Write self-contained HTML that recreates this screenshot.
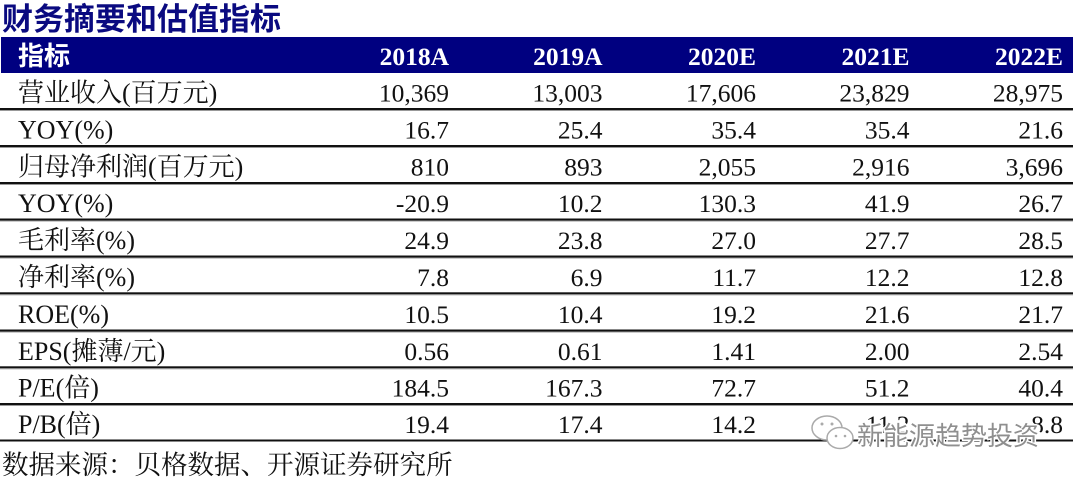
<!DOCTYPE html>
<html>
<head>
<meta charset="utf-8">
<style>
  html,body{margin:0;padding:0;background:#fff;}
  body{width:1080px;height:484px;overflow:hidden;}
  svg{display:block;}
  .n{font-family:"Liberation Serif","Noto Serif CJK SC",serif;font-size:25.5px;fill:#111;text-anchor:end;}
  .l{font-family:"Liberation Serif","Noto Serif CJK SC",serif;font-size:26px;fill:#111;}
  .h{font-family:"Liberation Serif","Noto Serif CJK SC",serif;font-size:25.5px;font-weight:bold;fill:#fff;text-anchor:end;}
</style>
</head>
<body>
<svg width="1080" height="484" viewBox="0 0 1080 484" xmlns="http://www.w3.org/2000/svg">
  <!-- title -->
  <text x="2" y="30" style="font-family:'Noto Sans CJK SC',sans-serif;font-size:31px;font-weight:bold;fill:#0a0a80;">财务摘要和估值指标</text>

  <!-- header bar -->
  <rect x="1" y="37" width="1072" height="36" fill="#000080"/>
  <text x="18" y="65" style="font-family:'Noto Sans CJK SC',sans-serif;font-size:26px;font-weight:bold;fill:#fff;">指标</text>
  <text class="h" x="449" y="65">2018A</text>
  <text class="h" x="602.5" y="65">2019A</text>
  <text class="h" x="756" y="65">2020E</text>
  <text class="h" x="909.5" y="65">2021E</text>
  <text class="h" x="1063" y="65">2022E</text>

  <!-- row lines -->
  <g fill="#111">
    <rect x="0" y="108" width="1073" height="2"/>
    <rect x="0" y="145" width="1073" height="2"/>
    <rect x="0" y="182" width="1073" height="2"/>
    <rect x="0" y="218.5" width="1073" height="2"/>
    <rect x="0" y="255.5" width="1073" height="2"/>
    <rect x="0" y="292.3" width="1073" height="2"/>
    <rect x="0" y="329.5" width="1073" height="2"/>
    <rect x="0" y="366.3" width="1073" height="2"/>
    <rect x="0" y="403" width="1073" height="2"/>
    <rect x="0" y="439.5" width="1073" height="2"/>
  </g>
  <g fill="#999">
    <rect x="0" y="110" width="1073" height="1"/>
    <rect x="0" y="147" width="1073" height="1"/>
    <rect x="0" y="184" width="1073" height="1"/>
    <rect x="0" y="220.5" width="1073" height="1"/>
    <rect x="0" y="257.5" width="1073" height="1"/>
    <rect x="0" y="294.3" width="1073" height="1"/>
    <rect x="0" y="331.5" width="1073" height="1"/>
    <rect x="0" y="368.3" width="1073" height="1"/>
    <rect x="0" y="405" width="1073" height="1"/>
  </g>

  <!-- rows -->
  <g>
    <text class="l" x="18" y="101.5">营业收入(百万元)</text>
    <text class="n" x="449" y="101.5">10,369</text>
    <text class="n" x="602.5" y="101.5">13,003</text>
    <text class="n" x="756" y="101.5">17,606</text>
    <text class="n" x="909.5" y="101.5">23,829</text>
    <text class="n" x="1063" y="101.5">28,975</text>

    <text class="l" x="18" y="138.5">YOY(%)</text>
    <text class="n" x="449" y="138.5">16.7</text>
    <text class="n" x="602.5" y="138.5">25.4</text>
    <text class="n" x="756" y="138.5">35.4</text>
    <text class="n" x="909.5" y="138.5">35.4</text>
    <text class="n" x="1063" y="138.5">21.6</text>

    <text class="l" x="18" y="175.3">归母净利润(百万元)</text>
    <text class="n" x="449" y="175.3">810</text>
    <text class="n" x="602.5" y="175.3">893</text>
    <text class="n" x="756" y="175.3">2,055</text>
    <text class="n" x="909.5" y="175.3">2,916</text>
    <text class="n" x="1063" y="175.3">3,696</text>

    <text class="l" x="18" y="212">YOY(%)</text>
    <text class="n" x="449" y="212">-20.9</text>
    <text class="n" x="602.5" y="212">10.2</text>
    <text class="n" x="756" y="212">130.3</text>
    <text class="n" x="909.5" y="212">41.9</text>
    <text class="n" x="1063" y="212">26.7</text>

    <text class="l" x="18" y="249">毛利率(%)</text>
    <text class="n" x="449" y="249">24.9</text>
    <text class="n" x="602.5" y="249">23.8</text>
    <text class="n" x="756" y="249">27.0</text>
    <text class="n" x="909.5" y="249">27.7</text>
    <text class="n" x="1063" y="249">28.5</text>

    <text class="l" x="18" y="285.8">净利率(%)</text>
    <text class="n" x="449" y="285.8">7.8</text>
    <text class="n" x="602.5" y="285.8">6.9</text>
    <text class="n" x="756" y="285.8">11.7</text>
    <text class="n" x="909.5" y="285.8">12.2</text>
    <text class="n" x="1063" y="285.8">12.8</text>

    <text class="l" x="18" y="322.8">ROE(%)</text>
    <text class="n" x="449" y="322.8">10.5</text>
    <text class="n" x="602.5" y="322.8">10.4</text>
    <text class="n" x="756" y="322.8">19.2</text>
    <text class="n" x="909.5" y="322.8">21.6</text>
    <text class="n" x="1063" y="322.8">21.7</text>

    <text class="l" x="18" y="359.8">EPS(摊薄/元)</text>
    <text class="n" x="449" y="359.8">0.56</text>
    <text class="n" x="602.5" y="359.8">0.61</text>
    <text class="n" x="756" y="359.8">1.41</text>
    <text class="n" x="909.5" y="359.8">2.00</text>
    <text class="n" x="1063" y="359.8">2.54</text>

    <text class="l" x="18" y="396.5">P/E(倍)</text>
    <text class="n" x="449" y="396.5">184.5</text>
    <text class="n" x="602.5" y="396.5">167.3</text>
    <text class="n" x="756" y="396.5">72.7</text>
    <text class="n" x="909.5" y="396.5">51.2</text>
    <text class="n" x="1063" y="396.5">40.4</text>

    <text class="l" x="18" y="433">P/B(倍)</text>
    <text class="n" x="449" y="433">19.4</text>
    <text class="n" x="602.5" y="433">17.4</text>
    <text class="n" x="756" y="433">14.2</text>
    <text class="n" x="909.5" y="433">11.2</text>
    <text class="n" x="1063" y="433">8.8</text>
  </g>

  <!-- watermark -->
  <g>
    <ellipse cx="827" cy="428" rx="15" ry="12" fill="#fff" stroke="#aaa" stroke-width="1.5"/>
    <ellipse cx="840" cy="438" rx="13" ry="10.5" fill="#fff" stroke="#aaa" stroke-width="1.5"/>
    <circle cx="822" cy="424" r="1.5" fill="#aaa"/>
    <circle cx="832" cy="424" r="1.5" fill="#aaa"/>
    <circle cx="836" cy="436" r="1.3" fill="#aaa"/>
    <circle cx="845" cy="436" r="1.3" fill="#aaa"/>
    <text x="857" y="445" style="font-family:'Noto Sans CJK SC',sans-serif;font-size:26px;fill:#8f8f8f;stroke:#fff;stroke-width:3px;paint-order:stroke;">新能源趋势投资</text>
  </g>

  <!-- footer -->
  <text x="2" y="474" style="font-family:'Liberation Serif','Noto Serif CJK SC',serif;font-size:26.5px;fill:#111;">数据来源：贝格数据、开源证券研究所</text>
</svg>
</body>
</html>
